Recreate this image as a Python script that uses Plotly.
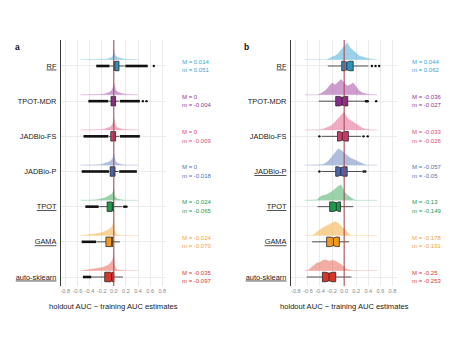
import plotly.graph_objects as go

# ---------------- data ----------------
methods = ["RF", "TPOT-MDR", "JADBio-FS", "JADBio-P", "TPOT", "GAMA", "auto-sklearn"]
rows = [7, 6, 5, 4, 3, 2, 1]
underline_a = [True, False, False, False, True, True, True]
underline_b = [True, False, False, True, True, True, True]

box_colors = ["#2f93bf", "#8a2a8a", "#cf3b68", "#4a66ad", "#1f9a4c", "#f0991e", "#d8352a"]
dens_colors = ["#5fb6da", "#b064b0", "#e6799a", "#8197cb", "#5cb879", "#f5b655", "#ea7a6c"]
text_colors = ["#3aa3d3", "#8e3590", "#d74b78", "#5570aa", "#2a9a52", "#f2a436", "#d63a30"]

# Panel a (holdout - training AUC): summary statistics
median_a = [0.014, 0, 0, 0, -0.024, -0.024, -0.035]
mean_a = [0.051, -0.004, -0.009, -0.018, -0.065, -0.079, -0.097]
q1_a = [0.0, -0.045, -0.05, -0.06, -0.11, -0.13, -0.15]
q3_a = [0.085, 0.03, 0.03, 0.02, -0.005, -0.02, 0.0]
lofence_a = [-0.06, -0.08, -0.08, -0.07, -0.24, -0.28, -0.365]
hifence_a = [0.18, 0.09, 0.09, 0.08, 0.14, 0.10, 0.15]
notch_a = [0.008, 0.006, 0.006, 0.006, 0.01, 0.01, 0.012]
outlier_bands_a = [
    [[-0.29, -0.07], [0.19, 0.56]],
    [[-0.42, -0.09], [0.10, 0.43]],
    [[-0.50, -0.09], [0.10, 0.43]],
    [[-0.53, -0.08], [0.09, 0.38]],
    [[-0.47, -0.25]],
    [[-0.53, -0.29]],
    [[-0.51, -0.37]],
]
outlier_pts_a = [[0.66], [0.48, 0.54], [], [], [0.17, 0.19, 0.21], [], []]

grid_a = [-0.55, -0.5, -0.45, -0.4, -0.35, -0.3, -0.25, -0.2, -0.15, -0.1, -0.06, -0.03,
          -0.01, 0, 0.01, 0.03, 0.06, 0.1, 0.15, 0.2, 0.25, 0.3, 0.35, 0.4]
dens_a = [
    [0, 0, 0, 0, 0, 0, 0, 0, 0.3, 0.8, 1.5, 2.5, 5, 10, 7, 4, 2.5, 1.5, 0.8, 0.4, 0.2, 0.1, 0, 0],
    [0, 0, 0, 0, 0, 0, 0.2, 0.5, 1, 2, 3, 5, 8, 12, 8, 5, 3, 2, 1, 0.6, 0.3, 0.1, 0, 0],
    [0, 0, 0, 0, 0, 0, 0.3, 0.6, 1.2, 2, 3, 5, 8, 12, 8, 4.5, 2.5, 1.5, 0.8, 0.4, 0.2, 0, 0, 0],
    [0, 0, 0, 0, 0, 0.2, 0.5, 1, 1.8, 2.8, 4, 6, 8, 11, 7, 4, 2, 1, 0.5, 0.2, 0, 0, 0, 0],
    [0, 0, 0, 0, 0, 0.5, 1, 1.5, 2.5, 4, 5, 6.5, 9, 12, 6, 3, 1.5, 0.8, 0.3, 0, 0, 0, 0, 0],
    [0, 0.3, 0.6, 1, 1.3, 1.7, 2.2, 3, 4, 5.5, 7, 9, 12, 15, 6, 2, 0.8, 0.3, 0, 0, 0, 0, 0, 0],
    [0, 0.4, 0.8, 1.1, 1.5, 2, 2.5, 3.2, 4.2, 5.5, 7.5, 10, 13, 17, 7, 2.5, 1, 0.4, 0.1, 0, 0, 0, 0, 0],
]

# Panel b: summary statistics
median_b = [0.044, -0.036, -0.033, -0.057, -0.13, -0.178, -0.25]
mean_b = [0.062, -0.027, -0.026, -0.05, -0.149, -0.191, -0.253]
q1_b = [-0.04, -0.14, -0.11, -0.14, -0.24, -0.29, -0.36]
q3_b = [0.15, 0.06, 0.07, 0.05, -0.06, -0.08, -0.14]
lofence_b = [-0.27, -0.42, -0.37, -0.38, -0.44, -0.53, -0.62]
hifence_b = [0.40, 0.34, 0.28, 0.29, 0.15, 0.08, 0.12]
notch_b = [0.045, 0.045, 0.04, 0.045, 0.04, 0.045, 0.055]
outliers_b = [[0.46, 0.52, 0.58], [0.36, 0.37, 0.38, 0.39, 0.53], [-0.41, 0.32, 0.39],
              [-0.41, 0.32, 0.35], [], [], []]

grid_b = [-0.65, -0.6, -0.55, -0.5, -0.45, -0.4, -0.35, -0.3, -0.25, -0.2, -0.15, -0.1, -0.05,
          0, 0.05, 0.1, 0.15, 0.2, 0.25, 0.3, 0.35, 0.4, 0.45, 0.5, 0.55]
dens_b = [
    [0, 0, 0, 0, 0, 0, 0, 0, 1, 3, 4, 6, 10, 14, 17, 12, 9, 6, 4, 3, 2, 1, 0.5, 0.2, 0],
    [0, 0, 0, 0, 0, 1, 2.5, 5, 9, 12, 10, 13, 15.5, 12, 9, 10, 12, 8, 4, 2, 1, 0.5, 0.3, 0, 0],
    [0, 0, 0, 0, 0, 0.3, 1, 2, 3.5, 5, 8, 11, 15, 18, 12, 10, 8, 6, 3.5, 2, 1, 0.3, 0, 0, 0],
    [0, 0, 0, 0, 0, 0.3, 1, 2.5, 5, 9, 13, 16.5, 15, 12, 10, 7.5, 6, 4, 2.5, 1, 0.3, 0, 0, 0, 0],
    [0, 0, 0, 0, 0.5, 3.5, 5, 5.5, 7, 9, 11.5, 14, 15.5, 9, 5.5, 3.5, 1, 0, 0, 0, 0, 0, 0, 0, 0],
    [0, 0, 0, 1, 4, 6, 8, 9.5, 11, 13, 14, 12.5, 9.5, 6.5, 3, 0.5, 0, 0, 0, 0, 0, 0, 0, 0, 0],
    [0, 0.5, 3, 6, 8, 8.5, 10.5, 11, 9.5, 10.5, 10, 8, 6.5, 3.5, 1.5, 0.5, 0, 0, 0, 0, 0, 0, 0, 0, 0],
]

tick_vals = [-0.8, -0.6, -0.4, -0.2, 0.0, 0.2, 0.4, 0.6, 0.8]
tick_text = ["-0.8", "-0.6", "-0.4", "-0.2", "0.0", "0.2", "0.4", "0.6", "0.8"]
x_title = "holdout AUC − training AUC estimates"

# ---------------- figure ----------------
W, H = 474, 355
OFF = 8  # page body margin offset
ROW_PX = 35.17
BASE_OFF = 0.18
FONT = "Liberation Sans, Arial, sans-serif"


def px(v):
    return (v - OFF) / W


def py(v):
    return 1 - (v - OFF) / H


fig = go.Figure()


def add_panel(xa, ya, grid, dens, q1, med, q3, lo, hi, notch):
    for i, m in enumerate(methods):
        r = rows[i]
        base = r + BASE_OFF
        top = [base + h / ROW_PX for h in dens[i]]
        fig.add_trace(go.Scatter(
            x=list(grid) + list(grid[::-1]),
            y=top + [base] * len(grid),
            fill="toself", mode="lines", line=dict(width=0.3, color=dens_colors[i]),
            fillcolor=dens_colors[i], opacity=0.62, hoverinfo="skip", showlegend=False,
            xaxis=xa, yaxis=ya))
    for i, m in enumerate(methods):
        fig.add_trace(go.Box(
            y=[rows[i]], q1=[q1[i]], median=[med[i]], q3=[q3[i]],
            lowerfence=[lo[i]], upperfence=[hi[i]], notchspan=[notch[i]],
            notched=True, notchwidth=0.1,
            orientation="h", width=0.27, whiskerwidth=0, boxpoints=False,
            fillcolor=box_colors[i], line=dict(color="#262626", width=0.8),
            showlegend=False, hoverinfo="skip", xaxis=xa, yaxis=ya))


add_panel("x", "y", grid_a, dens_a, q1_a, median_a, q3_a, lofence_a, hifence_a, notch_a)
add_panel("x2", "y2", grid_b, dens_b, q1_b, median_b, q3_b, lofence_b, hifence_b, notch_b)

# outliers panel a (dense bands + isolated points)
bx, by = [], []
for i, bands in enumerate(outlier_bands_a):
    for lo, hi in bands:
        bx += [lo, hi, None]
        by += [rows[i], rows[i], None]
fig.add_trace(go.Scatter(x=bx, y=by, mode="lines", line=dict(color="#111111", width=2.6),
                         hoverinfo="skip", showlegend=False, xaxis="x", yaxis="y"))
ox, oy = [], []
for i, pts in enumerate(outlier_pts_a):
    ox += pts
    oy += [rows[i]] * len(pts)
fig.add_trace(go.Scatter(x=ox, y=oy, mode="markers", marker=dict(color="#111111", size=2.4),
                         hoverinfo="skip", showlegend=False, xaxis="x", yaxis="y"))
ox, oy = [], []
for i, pts in enumerate(outliers_b):
    ox += pts
    oy += [rows[i]] * len(pts)
fig.add_trace(go.Scatter(x=ox, y=oy, mode="markers", marker=dict(color="#111111", size=2.4),
                         hoverinfo="skip", showlegend=False, xaxis="x2", yaxis="y2"))

# zero reference lines
for xr, yr in [("x", "y domain"), ("x2", "y2 domain")]:
    fig.add_shape(type="line", xref=xr, yref=yr, x0=0, x1=0, y0=0, y1=1,
                  line=dict(color="#a8404f", width=1.1), layer="above", opacity=0.9)

YR = [0.744, 7.739]
yd = [py(286), py(40)]


def lab(name, u):
    return f"<u>{name}</u>" if u else name


common_x = dict(tickvals=tick_vals, ticktext=tick_text, showgrid=True, gridcolor="#ebebeb",
                gridwidth=0.8, zeroline=False, showline=False, ticks="",
                tickfont=dict(size=5.6, color="#8a8a8a", family=FONT))
common_y = dict(range=YR, domain=yd, tickvals=rows, showgrid=True, gridcolor="#ebebeb",
                gridwidth=0.8, zeroline=False, showline=True, linecolor="#3a3a3a", linewidth=1.2,
                ticks="", tickfont=dict(size=7.4, color="#1a1a1a", family=FONT),
                ticklabelstandoff=2)

fig.update_layout(
    width=W, height=H, margin=dict(l=0, r=0, t=0, b=0),
    paper_bgcolor="white", plot_bgcolor="white", showlegend=False,
    xaxis=dict(range=[-0.871, 0.861], domain=[px(61), px(166)], anchor="y", **common_x),
    xaxis2=dict(range=[-0.88, 0.875], domain=[px(291), px(397)], anchor="y2", **common_x),
    yaxis=dict(anchor="x", ticktext=[lab(m, u) for m, u in zip(methods, underline_a)], **common_y),
    yaxis2=dict(anchor="x2", ticktext=[lab(m, u) for m, u in zip(methods, underline_b)], **common_y),
)

ann = []
for ya, xp, med, mean in [("y", px(180), median_a, mean_a), ("y2", px(410), median_b, mean_b)]:
    for i in range(len(methods)):
        for val, lbl, dy in [(med[i], "M", 0.12), (mean[i], "m", -0.12)]:
            ann.append(dict(xref="paper", yref=ya, x=xp, y=rows[i] + dy, xanchor="left",
                            yanchor="middle", showarrow=False, text=f"{lbl} = {val:g}",
                            font=dict(size=6, color=text_colors[i], family=FONT)))
for xc in [px(113.5), px(344)]:
    ann.append(dict(xref="paper", yref="paper", x=xc, y=py(306), xanchor="center",
                    yanchor="middle", showarrow=False, text=x_title,
                    font=dict(size=7.6, color="#1a1a1a", family=FONT)))
for xl, letter in [(px(17), "a"), (px(247), "b")]:
    ann.append(dict(xref="paper", yref="paper", x=xl, y=py(47), xanchor="center",
                    yanchor="middle", showarrow=False, text=f"<b>{letter}</b>",
                    font=dict(size=8.5, color="#111111", family=FONT)))
fig.update_layout(annotations=ann)

fig.write_html("out.html")
